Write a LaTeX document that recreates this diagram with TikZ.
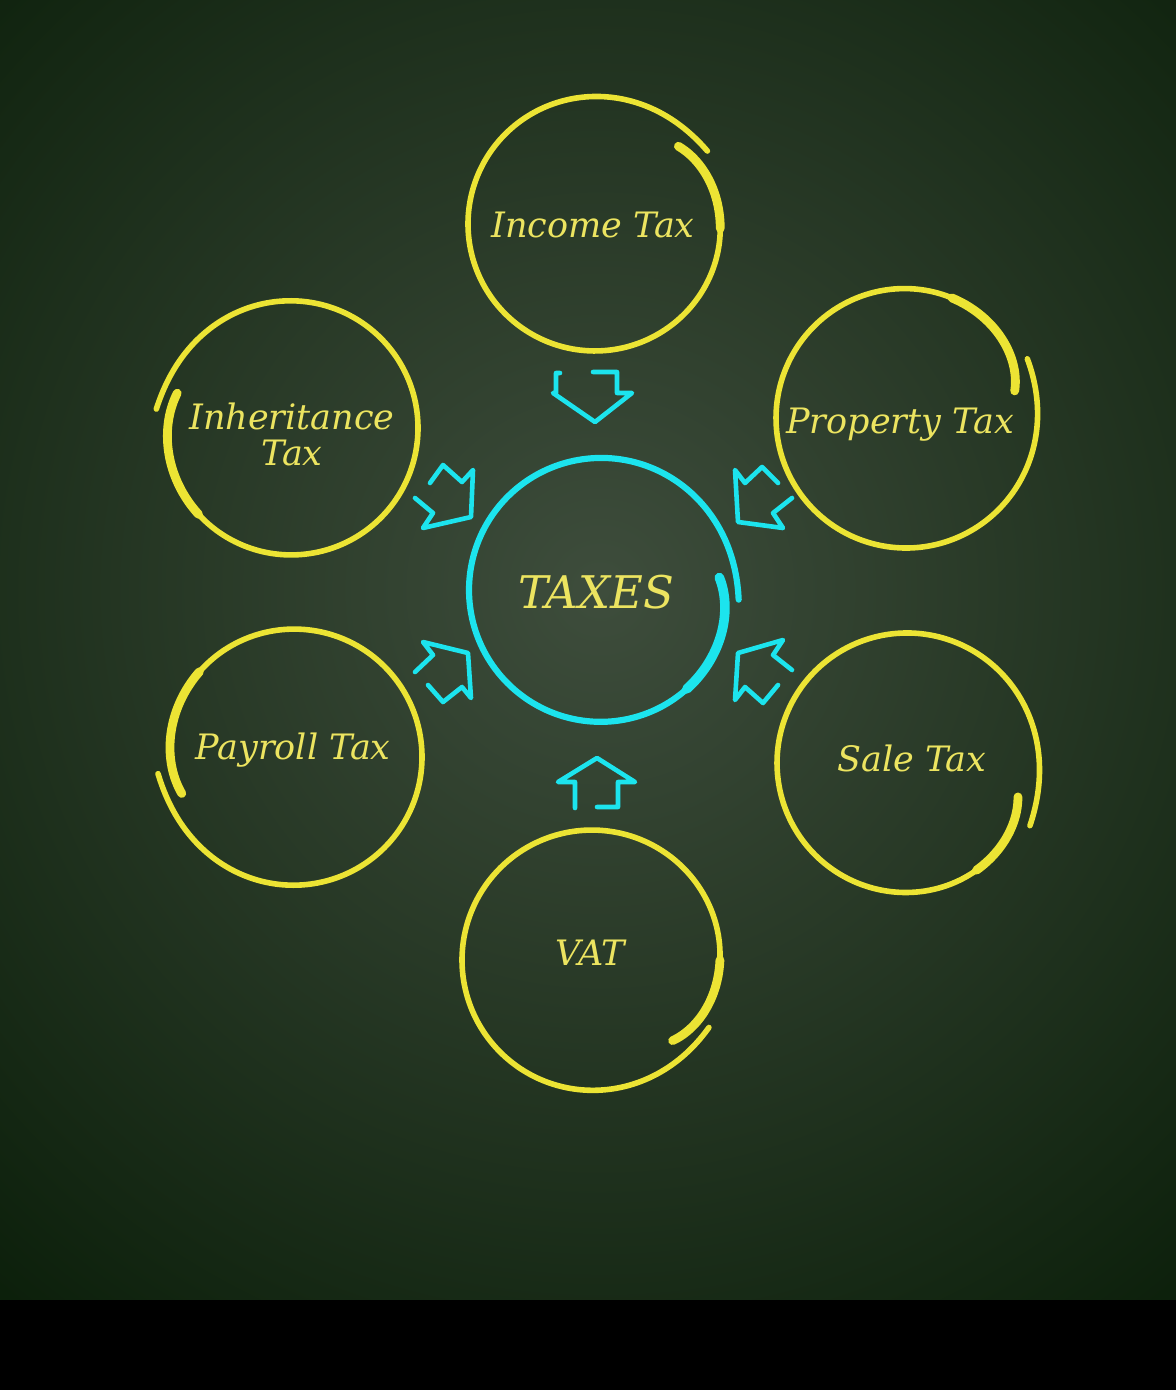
\documentclass[tikz,border=0pt]{standalone}
\usepackage{fontspec}
\setmainfont{DejaVu Serif}
\definecolor{bgdark}{RGB}{9,29,8}
\definecolor{bgmid}{RGB}{62,77,60}
\definecolor{ringyellow}{RGB}{236,228,52}
\definecolor{txtyellow}{RGB}{236,228,96}
\definecolor{cyanline}{RGB}{28,228,238}
\newcommand\ringsetup[9]{\def\rgC{#1}\def\rgX{#2}\def\rgY{#3}\def\rgR{#4}\def\rgA{#5}\def\rgS{#6}\def\rgL{#7}\def\rgP{#8}\def\rgQ{#9}}
\newcommand\ringpart[3]{\draw[#1,draw=\rgC] plot[domain=#2:#3,samples=120,smooth] ({\rgX+(\rgR+\rgP*exp(-\x/22)+\rgQ*exp(-(\rgL-\x)/22))*cos(\rgA+\rgS*\x)}, {\rgY-(\rgR+\rgP*exp(-\x/22)+\rgQ*exp(-(\rgL-\x)/22))*sin(\rgA+\rgS*\x)});}
\tikzset{
  ringline/.style={line width=2.8pt, line cap=round, line join=round},
  ringthick/.style={line width=4.4pt, line cap=round, line join=round},
  cyanring/.style={line width=3.1pt, line cap=round, line join=round},
  cyanthick/.style={line width=4.8pt, line cap=round, line join=round},
  blockarrow/.style={draw=cyanline, line width=2.3pt, line cap=round, line join=round},
  topictext/.style={text=txtyellow, font=\itshape\fontsize{17.5}{18}\selectfont, inner sep=0pt, align=center},
  maintext/.style={text=txtyellow, font=\itshape\fontsize{22.5}{26}\selectfont, inner sep=0pt},
}
\begin{document}
\begin{tikzpicture}[x=0.5pt,y=-0.5pt]
\useasboundingbox (0,0) rectangle (1176,1390);
% background
\fill[bgdark] (0,0) rectangle (1176,1300);
\begin{scope}
  \clip (0,0) rectangle (1176,1300);
  \shade[inner color=bgmid, outer color=bgdark] (600,590) circle (980);
\end{scope}
\fill[black] (0,1300) rectangle (1176,1390);

% rings
\ringsetup{ringyellow}{595}{224}{127}{43}{-1}{370}{-13}{7}
\ringpart{ringline}{0}{370}\ringpart{ringthick}{0}{45}
\ringsetup{ringyellow}{906}{418}{130}{26}{-1}{372}{5}{-18}
\ringpart{ringline}{0}{372}\ringpart{ringthick}{317}{372}
\ringsetup{ringyellow}{291}{428}{127}{163}{1}{369}{-8}{9}
\ringpart{ringline}{0}{369}\ringpart{ringthick}{0}{60}
\ringsetup{ringyellow}{294}{757}{128}{187}{1}{371}{9}{-10}
\ringpart{ringline}{0}{371}\ringpart{ringthick}{311}{371}
\ringsetup{ringyellow}{907}{763}{130}{-17}{-1}{370}{-14}{8}
\ringpart{ringline}{0}{370}\ringpart{ringthick}{0}{40}
\ringsetup{ringyellow}{592}{960}{130}{-30}{-1}{375}{5}{-16}
\ringpart{ringline}{0}{375}\ringpart{ringthick}{330}{375}
\ringsetup{cyanline}{601}{590}{132}{6}{-1}{370}{-13}{6}
\ringpart{cyanring}{0}{370}\ringpart{cyanthick}{0}{55}

% nodes
\node[topictext] (income) at (593,225) {Income Tax};
\node[topictext] (inherit) at (292,434) {Inheritance\\Tax};
\node[topictext] (property) at (900,425) {Property Tax};
\node[topictext] (payroll) at (293,750) {Payroll Tax};
\node[topictext] (sale) at (912,758) {Sale Tax};
\node[topictext] (vat) at (590,953) {VAT};
\node[maintext] (taxes) at (596,592) {TAXES};

% block arrows
\draw[blockarrow] (560,373) -- (556,373) -- (556,393) -- (553,393) -- (595,422) -- (632,393) -- (617,393) -- (617,372) -- (593,372);
\draw[blockarrow] (430,483) -- (443,465) -- (462,482) -- (473,470) -- (471,517) -- (423,528) -- (433,513) -- (415,498);
\draw[blockarrow] (778,483) -- (762,467) -- (745,483) -- (735,470) -- (738,522) -- (783,528) -- (773,513) -- (792,498);
\draw[blockarrow] (415,672) -- (433,655) -- (423,642) -- (468,653) -- (471,698) -- (462,687) -- (443,702) -- (428,685);
\draw[blockarrow] (792,670) -- (773,655) -- (783,640) -- (738,653) -- (735,700) -- (745,687) -- (763,703) -- (778,685);
\draw[blockarrow] (575,808) -- (575,782) -- (558,782) -- (597,758) -- (635,782) -- (618,782) -- (618,807) -- (597,807);
\end{tikzpicture}
\end{document}
